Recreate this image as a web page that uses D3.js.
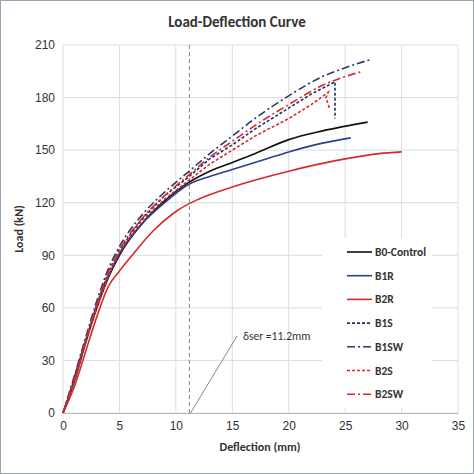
<!DOCTYPE html><html><head><meta charset="utf-8"><script src="https://cdn.jsdelivr.net/npm/d3@7"></script>
<style>body{margin:0;background:#fff}svg{font-family:Calibri,"Open Sans",Arial,sans-serif}</style></head><body><svg id="c" width="474" height="474"></svg><script>
const xTicks=[0,5,10,15,20,25,30,35];
const yTicks=[0,30,60,90,120,150,180,210];
const B0=[[0,0],[1,18],[2,40],[3,60],[4,77],[5,90],[7,108],[9,121],[11,131],[13,138],[15,143],[17,148],[20,156],[23,161],[27,166]];
const B1R=[[0,0],[1,19],[2,41],[3,61],[4,78],[5,91],[7,108],[9,120],[11,130],[13,135],[15,139],[18,145],[20,149],[23,154],[25.5,157]];
const B2R=[[0,0],[1,15],[2,35],[3,55],[4,72],[5,81],[6,89],[8,104],[10,115],[12,122],[15,129],[20,138],[25,145],[28,148],[30,149]];
const B1S=[[0,0],[1,20],[2,42],[3,62],[4,80],[5,93],[7,111],[9,124],[11,134],[13,145],[15,153],[17,162],[20,174],[22,182],[24.1,189],[24.1,168]];
const B1SW=[[0,0],[1,21],[2,43],[3,64],[4,82],[5,95],[7,113],[9,126],[11,137],[13,148],[15,158],[17,168],[20,181],[23,192],[25,197],[27.4,202]];
const B2S=[[0,0],[1,18],[2,40],[3,60],[4,78],[5,92],[7,110],[9,122],[11,132],[13,142],[15,150],[17,158],[20,168],[22,176],[23.5,183],[23.3,180],[23.6,174]];
const B2SW=[[0,0],[1,19],[2,41],[3,62],[4,80],[5,93],[7,111],[9,124],[11,135],[13,146],[15,155],[17,164],[20,176],[23,187],[25,192],[26.6,195]];
const series=[["B0-Control",B0,"#111","none"],["B1R",B1R,"#2e3f8f","none"],["B2R",B2R,"#d42a2a","none"],["B1S",B1S,"#1f2f6b","3,2"],["B1SW",B1SW,"#2a3a66","8,3,2,3"],["B2S",B2S,"#d42a2a","3,2"],["B2SW",B2SW,"#d42a2a","8,3,2,3"]];
const svg=d3.select("#c");
svg.append("rect").attr("x",0.5).attr("y",0.5).attr("width",473).attr("height",473).attr("fill","#fff").attr("stroke","#9aa3b5");
const x=d3.scaleLinear().domain([0,35]).range([63,458]);
const y=d3.scaleLinear().domain([0,210]).range([413,45]);
const g=svg.append("g");
xTicks.forEach(t=>g.append("line").attr("x1",x(t)).attr("x2",x(t)).attr("y1",y(0)).attr("y2",y(210)).attr("stroke","#ddd"));
yTicks.forEach(t=>g.append("line").attr("x1",x(0)).attr("x2",x(35)).attr("y1",y(t)).attr("y2",y(t)).attr("stroke","#ddd"));
const ax=svg.append("g").attr("transform","translate(0,413)").call(d3.axisBottom(x).tickValues(xTicks).tickSize(0).tickPadding(8));
const ay=svg.append("g").attr("transform","translate(63,0)").call(d3.axisLeft(y).tickValues(yTicks).tickSize(0).tickPadding(8));
[ax,ay].forEach(a=>{a.select(".domain").attr("stroke","#bbb");a.selectAll("text").attr("font-size",12).attr("fill","#333");});
ay.select(".domain").remove();
g.append("line").attr("x1",x(11.2)).attr("x2",x(11.2)).attr("y1",y(0)).attr("y2",y(210)).attr("stroke","#888").attr("stroke-dasharray","4,3");
const line=d3.line().x(d=>x(d[0])).y(d=>y(d[1])).curve(d3.curveMonotoneX);
const lineL=d3.line().x(d=>x(d[0])).y(d=>y(d[1]));
series.forEach(s=>svg.append("path").attr("d",(s[0]=="B1S"||s[0]=="B2S"?lineL:line)(s[1])).attr("fill","none").attr("stroke",s[2]).attr("stroke-width",1.6).attr("stroke-dasharray",s[3]));
svg.append("line").attr("x1",x(11.3)).attr("y1",y(0)).attr("x2",237).attr("y2",336).attr("stroke","#888");
svg.append("text").attr("x",243).attr("y",340).attr("font-size",11.5).attr("fill","#333").text("δser =11.2mm");
svg.append("rect").attr("x",322).attr("y",238).attr("width",110).attr("height",170).attr("fill","#fff");
series.forEach((s,i)=>{const yy=252+i*23.7;
svg.append("line").attr("x1",347).attr("x2",372).attr("y1",yy).attr("y2",yy).attr("stroke",s[2]).attr("stroke-width",1.6).attr("stroke-dasharray",s[3]);
svg.append("text").attr("x",375).attr("y",yy+4).attr("font-size",11.5).attr("font-weight","bold").attr("fill","#333").text(s[0]);});
svg.append("text").attr("x",237).attr("y",27).attr("text-anchor","middle").attr("font-size",15).attr("font-weight","bold").attr("fill","#333").text("Load-Deflection Curve");
svg.append("text").attr("x",260).attr("y",451).attr("text-anchor","middle").attr("font-size",12).attr("font-weight","bold").attr("fill","#333").text("Deflection (mm)");
svg.append("text").attr("transform","translate(23,229) rotate(-90)").attr("text-anchor","middle").attr("font-size",12).attr("font-weight","bold").attr("fill","#333").text("Load (kN)");
</script></body></html>
